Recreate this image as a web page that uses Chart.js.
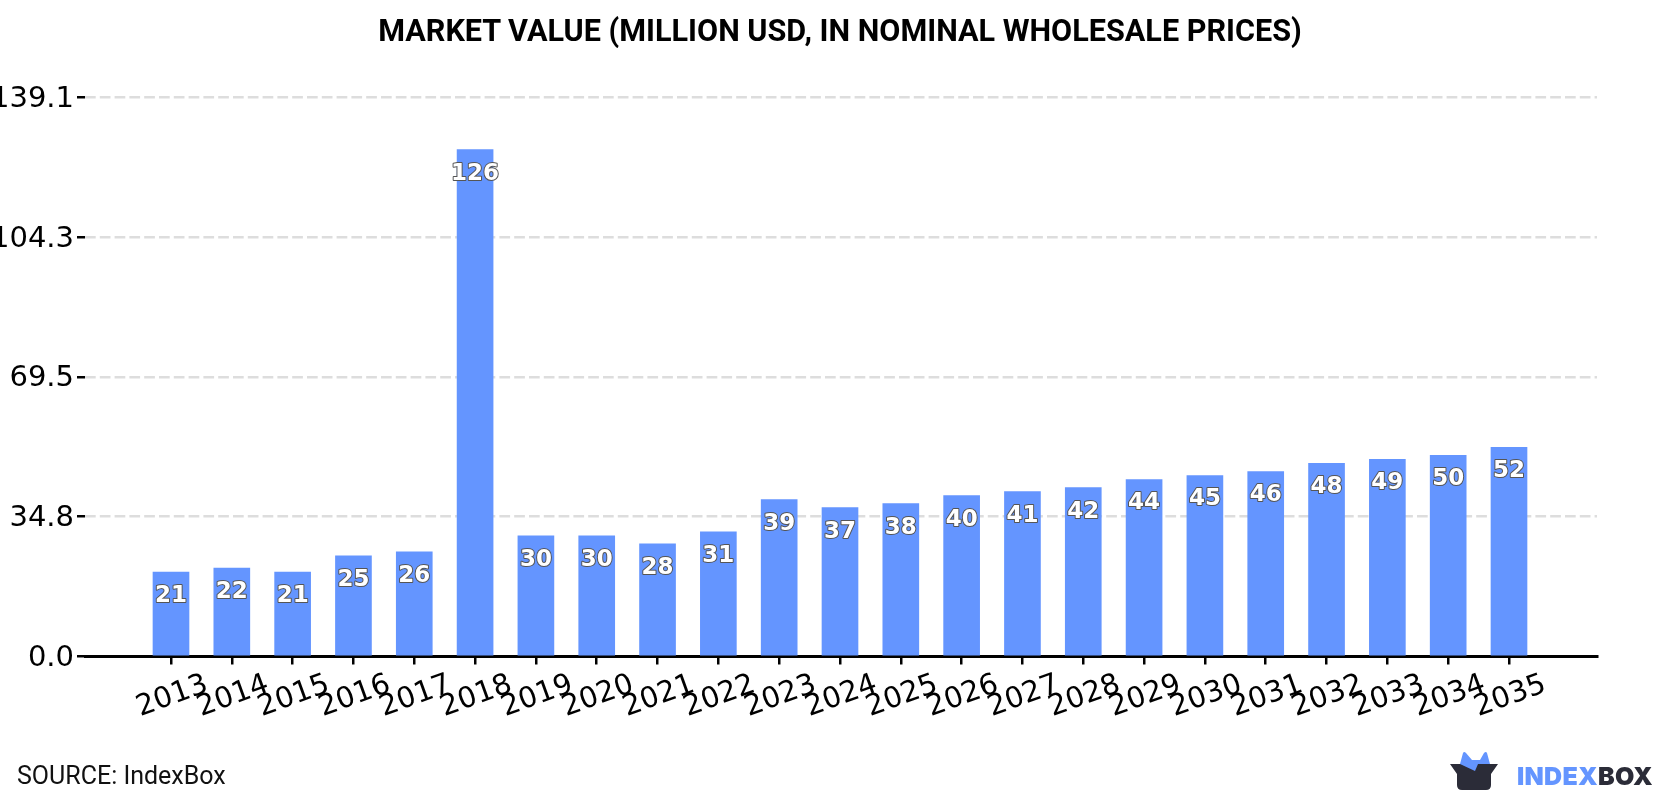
<!DOCTYPE html>
<html>
<head>
<meta charset="utf-8">
<title>Market value</title>
<script src="https://cdn.jsdelivr.net/npm/chart.js@4/dist/chart.umd.min.js"></script>
<style>
    html, body { margin: 0; padding: 0; background: #fff; overflow: hidden; }
    #wrap { position: relative; width: 1680px; height: 800px; }
    #heading { position: absolute; left: 0; width: 1680px; top: 13px; text-align: center; font: bold 30.6px Roboto, sans-serif; color: #000; }
    #source { position: absolute; left: 17px; top: 761px; font: 25px Roboto, sans-serif; color: #111; }
    #logo { position: absolute; left: 1448px; top: 752px; }
    #brand { position: absolute; left: 1517px; top: 761px; font: 900 25px Inter, Roboto, sans-serif; letter-spacing: 0.3px; color: #2b2c38; }
    #brand span { color: #6495ff; }
</style>
</head>
<body>
<div id="wrap">
    <canvas id="chart" width="1680" height="800"></canvas>
    <div id="heading">MARKET VALUE (MILLION USD, IN NOMINAL WHOLESALE PRICES)</div>
    <div id="source">SOURCE: IndexBox</div>
    <svg id="logo" width="52" height="40" viewBox="0 0 52 40">
        <path d="M2 12 L50 12 L43 22 L43 33 Q43 38 38 38 L14 38 Q9 38 9 33 L9 22 Z" fill="#2b2c38"/>
        <path d="M12 12 L15 1 Q16 -1 18 1 L24 8 L32 8 L36 1 Q38 -1 39 1 L42 12 L30 12 L27 19 Z" fill="#6495ff"/>
    </svg>
    <div id="brand"><span>INDEX</span>BOX</div>
</div>
<script>
    // Market value by year, million USD
    const years = [2013, 2014, 2015, 2016, 2017, 2018, 2019, 2020, 2021, 2022, 2023, 2024,
        2025, 2026, 2027, 2028, 2029, 2030, 2031, 2032, 2033, 2034, 2035];
    const marketValues = [21, 22, 21, 25, 26, 126, 30, 30, 28, 31, 39, 37,
        38, 40, 41, 42, 44, 45, 46, 48, 49, 50, 52];
    const yTicks = [0, 34.8, 69.5, 104.3, 139.1];

    // Writes each bar's value just under its top, white with a grey outline
    const barLabels = {
        id: 'barLabels',
        afterDatasetsDraw(chart) {
            const ctx = chart.ctx;
            ctx.save();
            ctx.font = 'bold 23px "DejaVu Sans"';
            ctx.textAlign = 'center';
            ctx.textBaseline = 'middle';
            ctx.lineJoin = 'round';
            chart.getDatasetMeta(0).data.forEach((bar, i) => {
                const text = String(marketValues[i]);
                ctx.strokeStyle = '#555';
                ctx.lineWidth = 2;
                ctx.strokeText(text, bar.x, bar.y + 24);
                ctx.fillStyle = '#fff';
                ctx.fillText(text, bar.x, bar.y + 24);
            });
            ctx.restore();
        }
    };

    const ctx = document.getElementById('chart').getContext('2d');
    const myChart = new Chart(ctx, {
        type: 'bar',
        plugins: [barLabels],
        data: {
            datasets: [{
                data: years.map((year, i) => ({ x: year, y: marketValues[i] })),
                backgroundColor: '#6495ff',
                barThickness: 36
            }]
        },
        options: {
            responsive: false,
            animation: false,
            layout: { autoPadding: false, padding: { top: 97, right: 83 } },
            plugins: {
                legend: { display: false },
                tooltip: { enabled: false }
            },
            scales: {
                x: {
                    type: 'linear',
                    offset: false,
                    min: 2011.586,
                    max: 2036.447,
                    afterBuildTicks: (scale) => { scale.ticks = years.map((year) => ({ value: year })); },
                    afterFit: (scale) => {
                        scale.height = 143.5;
                        scale.paddingLeft = 0;
                        scale.paddingRight = 0;
                    },
                    grid: { offset: false, drawOnChartArea: false, color: '#000', tickLength: 8, lineWidth: 2.5 },
                    border: { color: '#000', width: 3 },
                    ticks: {
                        autoSkip: false,
                        minRotation: 20,
                        maxRotation: 20,
                        labelOffset: 36,
                        padding: 3,
                        color: '#000',
                        font: { family: 'DejaVu Sans', size: 29 },
                        callback: (value) => String(value)
                    }
                },
                y: {
                    min: 0,
                    max: 139.1,
                    afterBuildTicks: (scale) => { scale.ticks = yTicks.map((v) => ({ value: v })); },
                    afterFit: (scale) => { scale.width = 85; },
                    grid: { color: '#dddddd', lineWidth: 2.5, tickColor: '#000', tickLength: 8, tickWidth: 2.5 },
                    border: { display: false, dash: [10.7, 4.1] },
                    ticks: {
                        padding: 3,
                        labelOffset: 2,
                        color: '#000',
                        font: { family: 'DejaVu Sans', size: 29 },
                        callback: (value) => value.toFixed(1)
                    }
                }
            }
        }
    });
</script>
</body>
</html>
